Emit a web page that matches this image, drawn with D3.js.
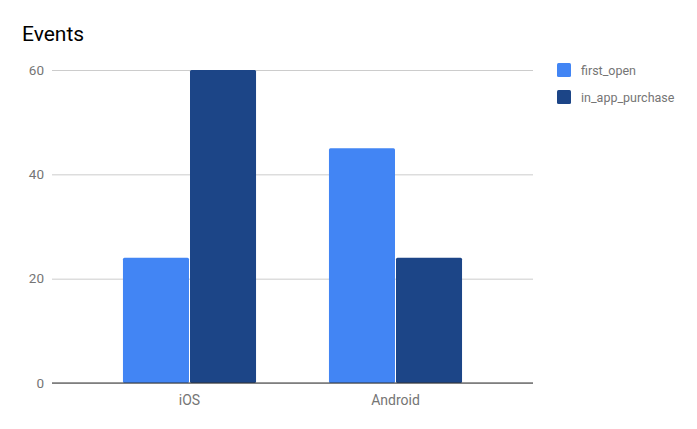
<!DOCTYPE html>
<html>
<head>
<meta charset="utf-8">
<script src="https://cdn.jsdelivr.net/npm/d3@7"></script>
<style>
  body { margin: 0; background: #fff; }
  svg { font-family: Roboto, sans-serif; }
</style>
</head>
<body>
<svg width="697" height="429"></svg>
<script>
// chart data
const categories = ["iOS", "Android"];
const seriesNames = ["first_open", "in_app_purchase"];
const firstOpen = [24, 45];
const inAppPurchase = [60, 24];
const yTicks = [0, 20, 40, 60];
const colors = ["#4285f4", "#1c4587"];

const seriesValues = [firstOpen, inAppPurchase];

const svg = d3.select("svg");

const plotLeft = 52, plotRight = 533, plotTop = 70, plotBottom = 383;

//y scale
const y = d3.scaleLinear().domain([0, 60]).range([plotBottom, plotTop]);

//category bands
const x0 = d3.scaleBand()
    .domain(categories)
    .range([86.5, 498.5])
    .paddingInner(0.354)
    .paddingOuter(0.177);

const x1 = d3.scaleBand()
    .domain(seriesNames)
    .range([0, x0.bandwidth()])
    .paddingInner(0.015);

//title
svg.append("text")
    .attr("x", 22)
    .attr("y", 41)
    .attr("font-size", 21)
    .attr("fill", "#000")
    .text("Events");

//gridlines + y labels
const yAxis = d3.axisLeft(y).tickValues(yTicks).tickSize(-(plotRight - plotLeft)).tickPadding(8);
const yg = svg.append("g")
    .attr("transform", `translate(${plotLeft},0)`)
    .call(yAxis);
yg.select(".domain").remove();
yg.selectAll(".tick line").attr("stroke", "#cccccc");
yg.selectAll(".tick text")
    .attr("fill", "#757575")
    .attr("font-size", 13.5)
    .attr("font-family", "Roboto, sans-serif");

//bars
const groups = svg.append("g")
    .selectAll("g")
    .data(categories)
    .join("g")
    .attr("transform", d => `translate(${x0(d)},0)`);

groups.selectAll("rect")
    .data((d, i) => seriesNames.map((s, j) => ({ s, v: seriesValues[j][i], j })))
    .join("rect")
    .attr("x", d => x1(d.s))
    .attr("y", d => y(d.v))
    .attr("width", x1.bandwidth())
    .attr("height", d => y(0) - y(d.v))
    .attr("rx", 1.5)
    .attr("fill", d => colors[d.j]);

//baseline
svg.append("line")
    .attr("x1", plotLeft).attr("x2", plotRight)
    .attr("y1", y(0)).attr("y2", y(0))
    .attr("stroke", "#333333")
    .attr("stroke-width", 1);

//x labels
const xg = svg.append("g")
    .attr("transform", `translate(0,${plotBottom})`)
    .call(d3.axisBottom(x0).tickSize(0).tickPadding(12));
xg.select(".domain").remove();
xg.selectAll(".tick text")
    .attr("fill", "#757575")
    .attr("font-size", 14)
    .attr("font-family", "Roboto, sans-serif");

//legend
const legend = svg.append("g")
    .selectAll("g")
    .data(seriesNames)
    .join("g")
    .attr("transform", (d, i) => `translate(557,${63 + i * 27})`);

legend.append("rect")
    .attr("width", 14)
    .attr("height", 14)
    .attr("rx", 1.5)
    .attr("fill", (d, i) => colors[i]);

legend.append("text")
    .attr("x", 24)
    .attr("y", 12)
    .attr("font-size", 12.5)
    .attr("fill", "#757575")
    .text(d => d);
</script>
</body>
</html>
